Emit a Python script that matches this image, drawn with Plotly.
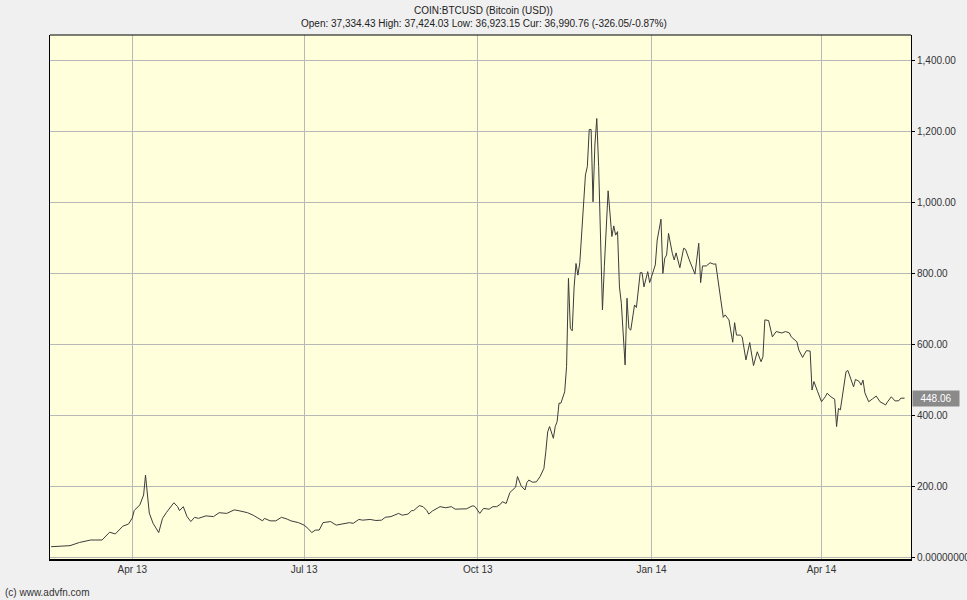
import plotly.graph_objects as go

# ---- data ----
dates = [
    "2013-02-17", "2013-02-22", "2013-02-27", "2013-03-04", "2013-03-07", "2013-03-10",
    "2013-03-16", "2013-03-20", "2013-03-23", "2013-03-27", "2013-03-30", "2013-04-01",
    "2013-04-02", "2013-04-04", "2013-04-05", "2013-04-07", "2013-04-08", "2013-04-10",
    "2013-04-12", "2013-04-15", "2013-04-17", "2013-04-19", "2013-04-23", "2013-04-25",
    "2013-04-26", "2013-04-28", "2013-04-30", "2013-05-02", "2013-05-04", "2013-05-06",
    "2013-05-10", "2013-05-14", "2013-05-17", "2013-05-21", "2013-05-25", "2013-05-28",
    "2013-06-01", "2013-06-04", "2013-06-09", "2013-06-10", "2013-06-13", "2013-06-16",
    "2013-06-19", "2013-06-22", "2013-06-24", "2013-06-28", "2013-07-01", "2013-07-03",
    "2013-07-05", "2013-07-07", "2013-07-09", "2013-07-11", "2013-07-15", "2013-07-18",
    "2013-07-22", "2013-07-25", "2013-07-27", "2013-07-30", "2013-08-01", "2013-08-05",
    "2013-08-08", "2013-08-11", "2013-08-13", "2013-08-16", "2013-08-20", "2013-08-22",
    "2013-08-25", "2013-08-27", "2013-08-28", "2013-08-31", "2013-09-02", "2013-09-04",
    "2013-09-05", "2013-09-07", "2013-09-10", "2013-09-11", "2013-09-14", "2013-09-17",
    "2013-09-19", "2013-09-23", "2013-09-25", "2013-09-28", "2013-09-29", "2013-09-30",
    "2013-10-02", "2013-10-04", "2013-10-06", "2013-10-07", "2013-10-09", "2013-10-11",
    "2013-10-13", "2013-10-14", "2013-10-16", "2013-10-17", "2013-10-18", "2013-10-21",
    "2013-10-22", "2013-10-24", "2013-10-26", "2013-10-27", "2013-10-28", "2013-10-30",
    "2013-11-01", "2013-11-03", "2013-11-05", "2013-11-06", "2013-11-07", "2013-11-08",
    "2013-11-10", "2013-11-11", "2013-11-12", "2013-11-13", "2013-11-14", "2013-11-16",
    "2013-11-17", "2013-11-18", "2013-11-19", "2013-11-20", "2013-11-21", "2013-11-22",
    "2013-11-23", "2013-11-24", "2013-11-26", "2013-11-27", "2013-11-28", "2013-11-29",
    "2013-11-30", "2013-12-01", "2013-12-02", "2013-12-03", "2013-12-04", "2013-12-06",
    "2013-12-07", "2013-12-09", "2013-12-11", "2013-12-12", "2013-12-13", "2013-12-14",
    "2013-12-15", "2013-12-16", "2013-12-18", "2013-12-19", "2013-12-20", "2013-12-21",
    "2013-12-23", "2013-12-24", "2013-12-26", "2013-12-27", "2013-12-28", "2013-12-30",
    "2013-12-31", "2014-01-02", "2014-01-03", "2014-01-04", "2014-01-06", "2014-01-07",
    "2014-01-08", "2014-01-09", "2014-01-10", "2014-01-12", "2014-01-13", "2014-01-14",
    "2014-01-16", "2014-01-18", "2014-01-19", "2014-01-21", "2014-01-24", "2014-01-26",
    "2014-01-27", "2014-01-28", "2014-01-30", "2014-02-01", "2014-02-03", "2014-02-04",
    "2014-02-05", "2014-02-07", "2014-02-08", "2014-02-09", "2014-02-11", "2014-02-13",
    "2014-02-14", "2014-02-15", "2014-02-17", "2014-02-18", "2014-02-20", "2014-02-22",
    "2014-02-24", "2014-02-26", "2014-02-28", "2014-03-01", "2014-03-02", "2014-03-04",
    "2014-03-06", "2014-03-08", "2014-03-11", "2014-03-13", "2014-03-15", "2014-03-16",
    "2014-03-19", "2014-03-20", "2014-03-22", "2014-03-24", "2014-03-26", "2014-03-27",
    "2014-03-28", "2014-03-30", "2014-04-01", "2014-04-03", "2014-04-04", "2014-04-06",
    "2014-04-08", "2014-04-09", "2014-04-10", "2014-04-11", "2014-04-14", "2014-04-15",
    "2014-04-17", "2014-04-18", "2014-04-19", "2014-04-21", "2014-04-22", "2014-04-23",
    "2014-04-24", "2014-04-26", "2014-04-28", "2014-04-30", "2014-05-02", "2014-05-05",
    "2014-05-06", "2014-05-08", "2014-05-10", "2014-05-12", "2014-05-13", "2014-05-15",
]
prices = [
    29, 31, 32, 41, 45, 48,
    48, 70, 65, 87, 93, 110,
    131, 141, 147, 175, 231, 124,
    95, 69, 109, 125, 153, 142,
    131, 142, 114, 100, 112, 109,
    116, 114, 125, 123, 133, 130,
    125, 118, 102, 109, 102, 102,
    112, 107, 102, 97, 90, 81,
    69, 76, 76, 97, 100, 90,
    95, 97, 95, 106, 104, 106,
    103, 104, 112, 114, 123, 118,
    121, 131, 131, 145, 142, 131,
    121, 130, 139, 142, 139, 142,
    135, 135, 136, 144, 144, 139,
    123, 137, 137, 135, 142, 142,
    149, 156, 151, 166, 182, 197,
    227, 200, 189, 210, 217, 211,
    212, 227, 250, 297, 353, 368,
    335, 368, 382, 434, 434, 466,
    537, 786, 645, 638, 762, 828,
    795, 830, 1007, 1078, 1101, 1206,
    1206, 1002, 1162, 1237, 1101, 697,
    819, 1033, 904, 934, 908, 918,
    762, 716, 542, 730, 645, 640,
    711, 704, 802, 802, 762, 805,
    774, 810, 824, 894, 953, 800,
    843, 852, 913, 857, 838, 858,
    816, 871, 868, 838, 798, 885,
    774, 821, 821, 830, 826, 827,
    791, 725, 676, 683, 669, 606,
    661, 626, 626, 621, 556, 605,
    540, 579, 551, 565, 669, 667,
    621, 636, 632, 636, 632, 621,
    607, 584, 563, 582, 581, 471,
    495, 466, 438, 452, 462, 452,
    445, 368, 419, 415, 523, 526,
    495, 480, 501, 495, 485, 499,
    463, 438, 446, 454, 438, 429,
    438, 452, 440, 441, 448, 448.06,
]

x_tick_vals = ["2013-04-01", "2013-07-01", "2013-10-01", "2014-01-01", "2014-04-01"]
x_tick_text = ["Apr 13", "Jul 13", "Oct 13", "Jan 14", "Apr 14"]
y_tick_vals = [0, 200, 400, 600, 800, 1000, 1200, 1400]
y_tick_text = ["0.00000000", "200.00", "400.00", "600.00", "800.00",
               "1,000.00", "1,200.00", "1,400.00"]

title_line1 = "COIN:BTCUSD (Bitcoin (USD))"
title_line2 = "Open: 37,334.43 High: 37,424.03 Low: 36,923.15 Cur: 36,990.76 (-326.05/-0.87%)"
last_price = 448.06
copyright_text = "(c) www.advfn.com"

FONT = "Liberation Sans, Arial, sans-serif"
FS = 10
W, H = 967, 600
ML, MR, MT, MB = 50, 56, 35, 41
PW = W - ML - MR

fig = go.Figure()
fig.add_trace(go.Scatter(
    x=dates, y=prices, mode="lines",
    line=dict(color="#3c3c3c", width=1),
    hoverinfo="x+y", showlegend=False,
))

fig.update_layout(
    width=W, height=H,
    margin=dict(l=ML, r=MR, t=MT, b=MB, autoexpand=False),
    paper_bgcolor="#f0f0f0",
    plot_bgcolor="#ffffdc",
    font=dict(family=FONT, size=FS, color="#333333"),
    xaxis=dict(
        range=["2013-02-16 10:00", "2014-05-18 10:00"],
        tickvals=x_tick_vals, ticktext=x_tick_text,
        showgrid=True, gridcolor="#b8b8b8", gridwidth=1,
        showline=True, linecolor="#000000", linewidth=2,
        ticks="", zeroline=False, fixedrange=True, automargin=False,
        tickfont=dict(family=FONT, size=FS, color="#333333"),
    ),
    yaxis=dict(
        side="right",
        range=[-5.6, 1472.5],
        tickvals=y_tick_vals, ticktext=y_tick_text,
        showgrid=True, gridcolor="#b8b8b8", gridwidth=1,
        showline=True, linecolor="#000000", linewidth=1, mirror=True,
        ticks="outside", ticklen=3, tickcolor="#000000",
        zeroline=False, fixedrange=True, automargin=False,
        tickfont=dict(family=FONT, size=FS, color="#333333"),
    ),
    shapes=[
        dict(type="line", xref="paper", yref="paper", x0=0, x1=1, y0=1, y1=1,
             line=dict(color="#000000", width=1)),
    ],
)

cx = (483.5 - ML) / PW
fig.add_annotation(text=title_line1, xref="paper", yref="paper", x=cx, y=1,
                   yshift=25, xanchor="center", yanchor="middle", showarrow=False,
                   font=dict(family=FONT, size=FS, color="#222222"))
fig.add_annotation(text=title_line2, xref="paper", yref="paper", x=cx, y=1,
                   yshift=12, xanchor="center", yanchor="middle", showarrow=False,
                   font=dict(family=FONT, size=FS, color="#222222"))
fig.add_annotation(text=str(last_price), xref="paper", yref="y", x=1, y=last_price,
                   xanchor="left", yanchor="middle", xshift=1, showarrow=False,
                   bgcolor="#8a8a8a", borderpad=1, width=44, height=13, align="center",
                   font=dict(family=FONT, size=FS, color="#ffffff"))
fig.add_annotation(text=copyright_text, xref="paper", yref="paper",
                   x=(5 - ML) / PW, y=0, yshift=-33, xshift=-2, xanchor="left",
                   yanchor="middle", showarrow=False,
                   font=dict(family=FONT, size=FS, color="#333333"))

fig.write_html("out.html", config={"displayModeBar": False},
               post_script="document.body.style.margin='0px';document.body.style.overflow='hidden';")
